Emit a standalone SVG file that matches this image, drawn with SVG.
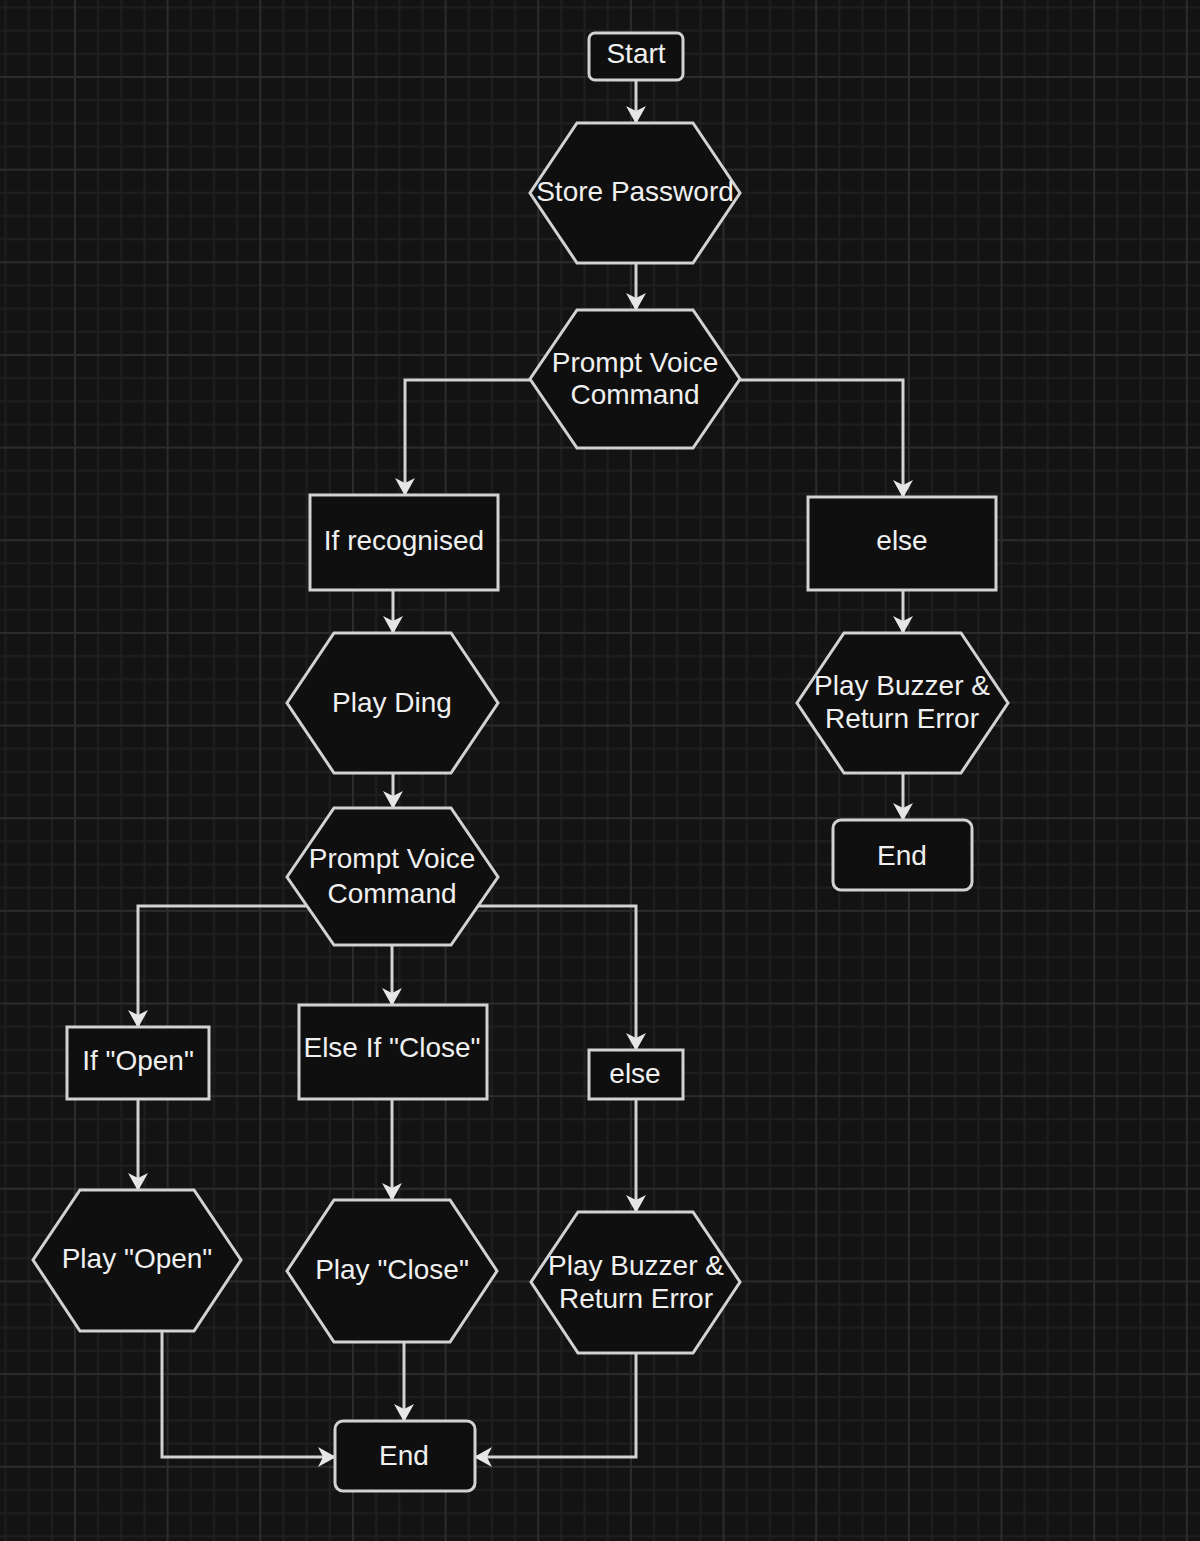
<svg xmlns="http://www.w3.org/2000/svg" width="1200" height="1541" viewBox="0 0 1200 1541">
<defs>
<pattern id="grid" patternUnits="userSpaceOnUse" x="74" y="76" width="92.65" height="92.65">
<g stroke="#1f1f1f" stroke-width="2">
<line x1="24.16" y1="0" x2="24.16" y2="92.65"/>
<line x1="47.33" y1="0" x2="47.33" y2="92.65"/>
<line x1="70.49" y1="0" x2="70.49" y2="92.65"/>
<line x1="0" y1="24.16" x2="92.65" y2="24.16"/>
<line x1="0" y1="47.33" x2="92.65" y2="47.33"/>
<line x1="0" y1="70.49" x2="92.65" y2="70.49"/>
</g>
<g stroke="#2c2c2c" stroke-width="2">
<line x1="1" y1="0" x2="1" y2="92.65"/>
<line x1="0" y1="1" x2="92.65" y2="1"/>
</g>
</pattern>
<marker id="arrow" markerUnits="userSpaceOnUse" viewBox="0 0 18 20" refX="17" refY="10" markerWidth="18" markerHeight="20" orient="auto">
<path d="M0,0 L18,10 L0,20 L5,10 Z" fill="#e6e6e6"/>
</marker>
<style>
.shape{fill:#0f0f0f;stroke:#d2d2d2;stroke-width:3}
.lbl{font-family:"Liberation Sans",Arial,sans-serif;font-size:28px;fill:#f0f0f0;text-anchor:middle}
.edge{fill:none;stroke:#d2d2d2;stroke-width:3;marker-end:url(#arrow)}
</style>
</defs>
<rect width="1200" height="1541" fill="#131313"/>
<rect width="1200" height="1541" fill="url(#grid)"/>

<g id="connectors">
<path class="edge" d="M636,80 V123"/>
<path class="edge" d="M636,263 V310"/>
<path class="edge" d="M530,380 H405 V495"/>
<path class="edge" d="M740,380 H903 V497"/>
<path class="edge" d="M393,590 V633"/>
<path class="edge" d="M393,773 V808"/>
<path class="edge" d="M307,906 H138 V1027"/>
<path class="edge" d="M392,945 V1005"/>
<path class="edge" d="M478,906 H636 V1050"/>
<path class="edge" d="M903,590 V633"/>
<path class="edge" d="M903,773 V820"/>
<path class="edge" d="M138,1099 V1190"/>
<path class="edge" d="M392,1099 V1200"/>
<path class="edge" d="M636,1099 V1212"/>
<path class="edge" d="M162,1331 V1457 H335"/>
<path class="edge" d="M404,1342 V1421"/>
<path class="edge" d="M636,1353 V1457 H475"/>
</g>

<g id="start">
<rect class="shape" x="589" y="33" width="94" height="47" rx="6"/>
<text class="lbl" x="636" y="63">Start</text>
</g>
<g id="store-password">
<polygon class="shape" points="577,123 693,123 740,193 693,263 577,263 530,193"/>
<text class="lbl" x="635" y="201">Store Password</text>
</g>
<g id="prompt-1">
<polygon class="shape" points="577,310 693,310 740,379 693,448 577,448 530,379"/>
<text class="lbl" x="635" y="372">Prompt Voice</text>
<text class="lbl" x="635" y="404">Command</text>
</g>
<g id="if-recognised">
<rect class="shape" x="310" y="495" width="188" height="95"/>
<text class="lbl" x="404" y="550">If recognised</text>
</g>
<g id="else-1">
<rect class="shape" x="808" y="497" width="188" height="93"/>
<text class="lbl" x="902" y="550">else</text>
</g>
<g id="play-ding">
<polygon class="shape" points="334,633 451,633 498,703 451,773 334,773 287,703"/>
<text class="lbl" x="392" y="712">Play Ding</text>
</g>
<g id="buzzer-1">
<polygon class="shape" points="844,633 961,633 1008,703 961,773 844,773 797,703"/>
<text class="lbl" x="902" y="695">Play Buzzer &amp;</text>
<text class="lbl" x="902" y="728">Return Error</text>
</g>
<g id="end-1">
<rect class="shape" x="833" y="820" width="139" height="70" rx="8"/>
<text class="lbl" x="902" y="865">End</text>
</g>
<g id="prompt-2">
<polygon class="shape" points="334,808 451,808 498,877 451,945 334,945 287,877"/>
<text class="lbl" x="392" y="868">Prompt Voice</text>
<text class="lbl" x="392" y="903">Command</text>
</g>
<g id="if-open">
<rect class="shape" x="67" y="1027" width="142" height="72"/>
<text class="lbl" x="138" y="1070">If "Open"</text>
</g>
<g id="else-if-close">
<rect class="shape" x="299" y="1005" width="188" height="94"/>
<text class="lbl" x="392" y="1057">Else If "Close"</text>
</g>
<g id="else-2">
<rect class="shape" x="589" y="1050" width="94" height="49"/>
<text class="lbl" x="635" y="1083">else</text>
</g>
<g id="play-open">
<polygon class="shape" points="80,1190 194,1190 241,1260 194,1331 80,1331 33,1260"/>
<text class="lbl" x="137" y="1268">Play "Open"</text>
</g>
<g id="play-close">
<polygon class="shape" points="334,1200 450,1200 497,1271 450,1342 334,1342 287,1271"/>
<text class="lbl" x="392" y="1279">Play "Close"</text>
</g>
<g id="buzzer-2">
<polygon class="shape" points="578,1212 693,1212 740,1282 693,1353 578,1353 531,1282"/>
<text class="lbl" x="636" y="1275">Play Buzzer &amp;</text>
<text class="lbl" x="636" y="1308">Return Error</text>
</g>
<g id="end-2">
<rect class="shape" x="335" y="1421" width="140" height="70" rx="8"/>
<text class="lbl" x="404" y="1465">End</text>
</g>
</svg>
